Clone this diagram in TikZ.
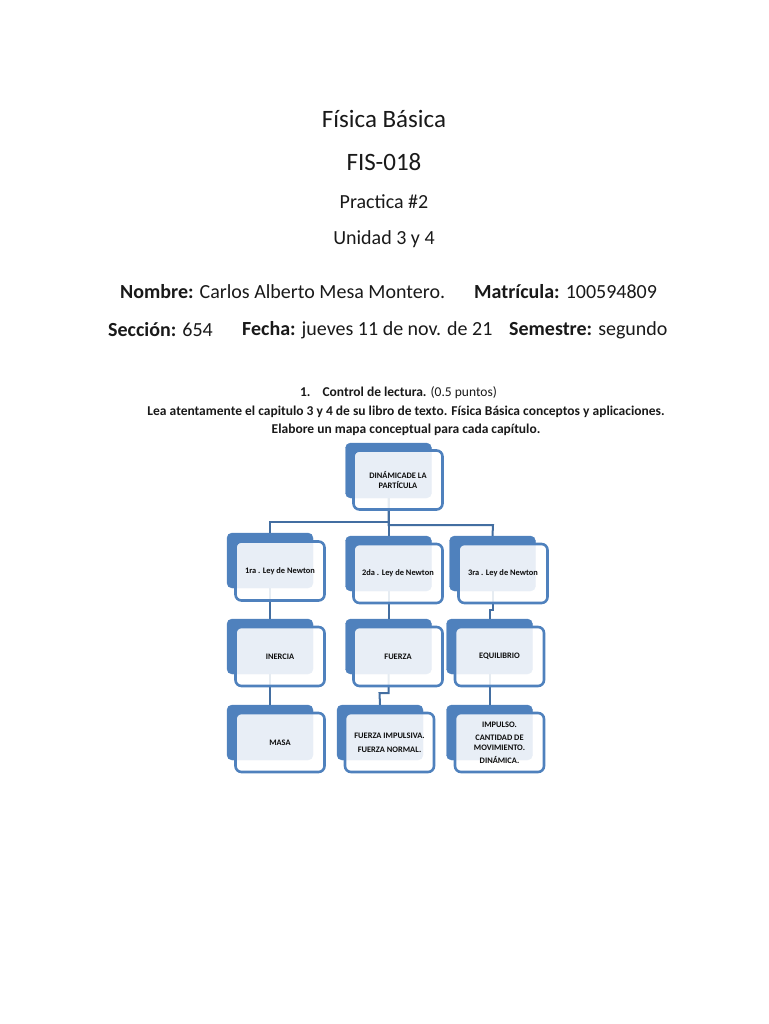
\documentclass[tikz,border=0pt]{standalone}
\usepackage{fontspec}
\setmainfont{Carlito}
\definecolor{boxblue}{HTML}{4F81BD}
\begin{document}
\begin{tikzpicture}[x=1pt,y=-1pt]
	\tikzstyle{title}=[inner sep=0pt,text=black!90,font=\fontsize{25}{28}\selectfont]
	\tikzstyle{subtitle}=[inner sep=0pt,text=black!90,font=\fontsize{20}{24}\selectfont]
	\tikzstyle{field}=[inner sep=0pt,anchor=west,text=black!90,font=\fontsize{20}{24}\selectfont]
	\tikzstyle{task}=[inner sep=0pt,text=black!90,font=\fontsize{13.5}{16}\selectfont\bfseries]
	\tikzstyle{back}=[rounded corners=5pt,fill=boxblue,draw=boxblue,minimum width=86pt,minimum height=55pt,inner sep=0pt]
	\tikzstyle{front}=[rounded corners=6pt,draw=boxblue,line width=2.6pt,fill=white,fill opacity=0.87,text opacity=1,minimum width=89pt,minimum height=59pt,inner sep=1pt,align=center,text=black!95,font=\fontsize{8.4}{10}\selectfont\bfseries]
	\tikzstyle{link}=[draw=boxblue!85!black,line width=2pt]

	\useasboundingbox (0,0) rectangle (768,1024);

	\node [title] (course) at (384,119) {Física Básica};
	\node [title] (code) at (384,162) {FIS-018};
	\node [subtitle] (practice) at (384,202) {Practica \#2};
	\node [subtitle] (unit) at (384,239.5) {Unidad 3 y 4};

	\node [field] (name) at (120,292) {\textbf{Nombre:} Carlos Alberto Mesa Montero.};
	\node [field] (id) at (474,292) {\textbf{Matrícula:} 100594809};
	\node [field] (section) at (108,330) {\textbf{Sección:} 654};
	\node [field] (date) at (242,330.5) {\textbf{Fecha:} jueves 11 de nov. de 21};
	\node [field] (term) at (509,330.5) {\textbf{Semestre:} segundo};

	\node [task] (item) at (398.5,392.5) {1.\hspace{12pt}Control de lectura. {\mdseries (0.5 puntos)}};
	\node [task] (read) at (406,411.5) {Lea atentamente el capitulo 3 y 4 de su libro de texto. Física Básica conceptos y aplicaciones.};
	\node [task] (make) at (406,429.5) {Elabore un mapa conceptual para cada capítulo.};

	% back plates
	\node [back] (rootb) at (388.5,470.5) {};
	\node [back] (n1b) at (270,560.5) {};
	\node [back] (n2b) at (388.5,563.5) {};
	\node [back] (n3b) at (492.5,563.5) {};
	\node [back] (m1b) at (270,646.5) {};
	\node [back] (m2b) at (388.5,646.5) {};
	\node [back] (m3b) at (489.5,646.5) {};
	\node [back] (k1b) at (270,732.5) {};
	\node [back] (k2b) at (380,732.5) {};
	\node [back] (k3b) at (489.5,732.5) {};

	% connectors run under the front plates
	\coordinate (busl) at (270,522);
	\coordinate (busr) at (493,525);
	\coordinate (jogc) at (489.5,610);
	\coordinate (jogb) at (379.5,693);
	\path [link] (rootb.south) |- (busl) -- (n1b.north);
	\path [link] (rootb.south) |- (busr) -- (n3b.north);
	\path [link] (rootb.south) -- (n2b.north);
	\path [link] (n1b.south) -- (m1b.north);
	\path [link] (n2b.south) -- (m2b.north);
	\path [link] (n3b.south) |- (jogc) -- (m3b.north);
	\path [link] (m1b.south) -- (k1b.north);
	\path [link] (m2b.south) |- (jogb) -- (k2b.north);
	\path [link] (m3b.south) -- (k3b.north);

	\node [front] (root) at (398,480) {DINÁMICADE LA\\PARTÍCULA};
	\node [front] (n1) at (280,571) {1ra . Ley de Newton};
	\node [front] (n2) at (398,573.5) {2da . Ley de Newton};
	\node [front] (n3) at (503,573.5) {3ra . Ley de Newton};
	\node [front] (m1) at (280,656.5) {INERCIA};
	\node [front] (m2) at (398,656.5) {FUERZA};
	\node [front] (m3) at (499.5,656.5) {EQUILIBRIO};
	\node [front] (k1) at (280,742.5) {MASA};
	\node [front] (k2) at (389.5,742.5) {FUERZA IMPULSIVA.\\[4pt]FUERZA NORMAL.};
	\node [front] (k3) at (499.5,742.5) {IMPULSO.\\[3pt]CANTIDAD DE\\MOVIMIENTO.\\[3pt]DINÁMICA.};
\end{tikzpicture}
\end{document}
